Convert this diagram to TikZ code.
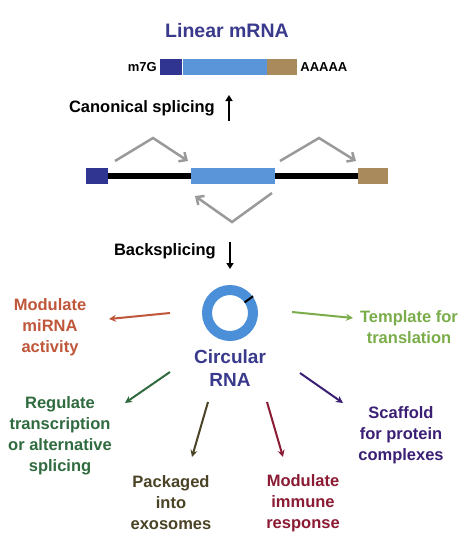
\documentclass[tikz,border=0pt]{standalone}
\usepackage{fontspec}
\setmainfont{Liberation Sans}
\usetikzlibrary{arrows.meta}
\definecolor{titleblue}{HTML}{3A3A8C}
\definecolor{exdark}{HTML}{2F3590}
\definecolor{exlight}{HTML}{5B95D9}
\definecolor{extan}{HTML}{A88A5C}
\definecolor{arrgray}{HTML}{9A9A9A}
\definecolor{ringblue}{HTML}{4A8FD8}
\definecolor{corange}{HTML}{C0563A}
\definecolor{cgreen}{HTML}{7AAD4A}
\definecolor{cdkgreen}{HTML}{2F6B3E}
\definecolor{colive}{HTML}{4A4325}
\definecolor{ccrimson}{HTML}{8B1A33}
\definecolor{cpurple}{HTML}{3A1F75}
\tikzset{
  exonbox/.style={draw=none, inner sep=0pt, minimum height=16pt, anchor=west},
  lbl/.style={font=\bfseries\fontsize{16.5}{21}\selectfont, align=center, inner sep=0pt},
  big/.style={font=\bfseries\fontsize{19}{23}\selectfont, align=center, inner sep=0pt, text=titleblue},
  grayarr/.style={draw=arrgray, line width=2.5pt, -{Straight Barb[length=6pt,width=11pt,line width=2.5pt]}},
  blkarr/.style={draw=black, line width=1.8pt, -{Triangle[length=6pt,width=7pt]}},
  colarr/.style={line width=2pt, -{Stealth[length=7pt,width=7pt]}}
}
\begin{document}
\begin{tikzpicture}[x=1pt,y=-1pt]
\useasboundingbox[fill=white] (0,0) rectangle (466,533);
% Linear mRNA
\node[big, font=\bfseries\fontsize{19.5}{23}\selectfont] (title) at (227,31) {Linear mRNA};
\node[exonbox, fill=exdark, minimum width=22pt] (m1) at (160,67) {};
\node[exonbox, fill=exlight, minimum width=84pt] (m2) at (m1.east) {};
\node[exonbox, fill=extan, minimum width=30pt] (m3) at (m2.east) {};
\node[anchor=east, inner sep=0pt, font=\bfseries\fontsize{13}{13}\selectfont] (cap) at ([xshift=-3pt]m1.west) {m7G};
\node[anchor=west, inner sep=0pt, font=\bfseries\fontsize{13}{13}\selectfont] (tail) at ([xshift=3pt]m3.east) {AAAAA};
% canonical splicing
\node[lbl, anchor=east] (canon) at (215,108) {Canonical splicing};
\coordinate (ca1) at (229,121);
\coordinate (ca2) at (229,95);
\draw[blkarr] (ca1) -- (ca2);
% pre-mRNA
\node[exonbox, fill=exdark, minimum width=22pt] (p1) at (86,176) {};
\node[exonbox, fill=exlight, minimum width=84pt] (p2) at (191,176) {};
\node[exonbox, fill=extan, minimum width=30pt] (p3) at (358,176) {};
\draw[line width=6pt] (p1.east) -- (p2.west);
\draw[line width=6pt] (p2.east) -- (p3.west);
\coordinate (g1a) at (115,161); \coordinate (g1b) at (153,138); \coordinate (g1c) at (188,161);
\coordinate (g2a) at (280,161); \coordinate (g2b) at (319,138); \coordinate (g2c) at (356,161);
\coordinate (g3a) at (272,193); \coordinate (g3b) at (232,222); \coordinate (g3c) at (195,196);
\draw[grayarr] (g1a) -- (g1b) -- (g1c);
\draw[grayarr] (g2a) -- (g2b) -- (g2c);
\draw[grayarr] (g3a) -- (g3b) -- (g3c);
% backsplicing
\node[lbl, anchor=east] (back) at (216,251) {Backsplicing};
\coordinate (ba1) at (230,242);
\coordinate (ba2) at (230,269);
\draw[blkarr] (ba1) -- (ba2);
% circular RNA
\coordinate (ring) at (230,313);
\draw[ringblue, line width=10pt] (ring) circle[radius=23pt];
\draw[black, line width=2pt] ([shift={(36:18pt)}]ring) -- ([shift={(36:28.5pt)}]ring);
\node[big] (circ) at (230,368) {Circular\\RNA};
% functions
\node[lbl, text=corange] (f1) at (50,327) {Modulate\\miRNA\\activity};
\node[lbl, text=cgreen] (f2) at (409,327) {Template for\\translation};
\node[lbl, text=cdkgreen] (f3) at (60,436) {Regulate\\transcription\\or alternative\\splicing};
\node[lbl, text=colive] (f4) at (171,503) {Packaged\\into\\exosomes};
\node[lbl, text=ccrimson] (f5) at (303,503) {Modulate\\immune\\response};
\node[lbl, text=cpurple] (f6) at (401,435) {Scaffold\\for protein\\complexes};
\coordinate (a1s) at (170,313); \coordinate (a1e) at (109,319);
\coordinate (a2s) at (292,312); \coordinate (a2e) at (353,318);
\coordinate (a3s) at (170,372); \coordinate (a3e) at (125,403);
\coordinate (a4s) at (208,402); \coordinate (a4e) at (192,457);
\coordinate (a5s) at (267,402); \coordinate (a5e) at (283,457);
\coordinate (a6s) at (300,373); \coordinate (a6e) at (343,403);
\draw[colarr, corange] (a1s) -- (a1e);
\draw[colarr, cgreen] (a2s) -- (a2e);
\draw[colarr, cdkgreen] (a3s) -- (a3e);
\draw[colarr, colive] (a4s) -- (a4e);
\draw[colarr, ccrimson] (a5s) -- (a5e);
\draw[colarr, cpurple] (a6s) -- (a6e);
\end{tikzpicture}
\end{document}
